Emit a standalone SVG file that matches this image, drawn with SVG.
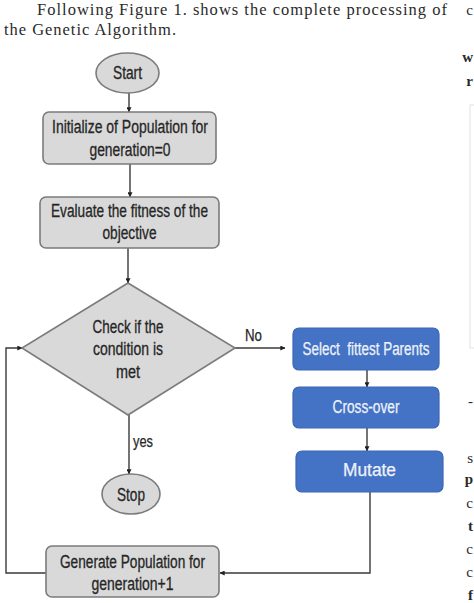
<svg xmlns="http://www.w3.org/2000/svg" width="474" height="603" viewBox="0 0 474 603">
<style>
.para{font-family:"Liberation Serif","Times New Roman",serif;font-size:16.5px;fill:#2a2a2a}
.frag{font-family:"Liberation Serif","Times New Roman",serif;font-size:15px;fill:#2a2a2a;text-anchor:end}
.gray{fill:#d9d9d9;stroke:#7b7b7b;stroke-width:1.6}
.blue{fill:#4472c4;stroke:#3b67b5;stroke-width:1.2}
.t{font-family:"Liberation Sans",Arial,sans-serif;font-size:18px;fill:#262626;stroke:#262626;stroke-width:0.3;text-anchor:middle}
.tw{font-family:"Liberation Sans",Arial,sans-serif;font-size:18px;fill:#eef2fa;stroke:#eef2fa;stroke-width:0.25;text-anchor:middle;white-space:pre}
.lbl{font-family:"Liberation Sans",Arial,sans-serif;font-size:17px;fill:#262626;stroke:#262626;stroke-width:0.25}
.con{fill:none;stroke:#3a3a3a;stroke-width:1.4}
</style>
<defs>
<marker id="arr" viewBox="0 0 8 8" refX="7.5" refY="4" markerWidth="5" markerHeight="5" orient="auto" markerUnits="userSpaceOnUse">
<path d="M0,0 L8,4 L0,8 z" fill="#222"/>
</marker>
</defs>
<rect width="474" height="603" fill="#ffffff"/>

<g id="paragraph">
<text class="para" x="37" y="15" textLength="410" lengthAdjust="spacing">Following Figure 1. shows the complete processing of</text>
<text class="para" x="4" y="35" textLength="172" lengthAdjust="spacing">the Genetic Algorithm.</text>
</g>

<g id="page-edge">
<rect x="470" y="105" width="20" height="243" fill="none" stroke="#e2e2e2" stroke-width="1"/>
<text class="frag" x="473" y="15">c</text>
<text class="frag" x="473" y="62" font-weight="bold">w</text>
<text class="frag" x="473" y="86" font-weight="bold">r</text>
<text class="frag" x="473" y="406">-</text>
<text class="frag" x="473" y="463">s</text>
<text class="frag" x="473" y="484" font-weight="bold">p</text>
<text class="frag" x="473" y="508">c</text>
<text class="frag" x="473" y="531" font-weight="bold">t</text>
<text class="frag" x="473" y="554">c</text>
<text class="frag" x="473" y="577">c</text>
<text class="frag" x="473" y="600" font-weight="bold">f</text>
</g>

<g id="connectors">
<path class="con" d="M129,93 V112" marker-end="url(#arr)"/>
<path class="con" d="M130,164 V197" marker-end="url(#arr)"/>
<path class="con" d="M128,248 V283" marker-end="url(#arr)"/>
<path class="con" d="M235,348 H285" marker-end="url(#arr)"/>
<path class="con" d="M367,370 V387" marker-end="url(#arr)"/>
<path class="con" d="M367,428 V451" marker-end="url(#arr)"/>
<path class="con" d="M129,415 V474" marker-end="url(#arr)"/>
<path class="con" d="M370,492 V573 H220" marker-end="url(#arr)"/>
<path class="con" d="M46,573 H6 V348 H22" marker-end="url(#arr)"/>
<text class="lbl" x="245" y="341" textLength="17" lengthAdjust="spacingAndGlyphs">No</text>
<text class="lbl" x="133" y="447" textLength="20" lengthAdjust="spacingAndGlyphs">yes</text>
</g>

<g id="start">
<ellipse class="gray" cx="127.5" cy="73" rx="31.5" ry="20"/>
<text class="t" x="127.5" y="79" textLength="29" lengthAdjust="spacingAndGlyphs">Start</text>
</g>

<g id="init">
<rect class="gray" x="43" y="112" width="173" height="52" rx="6"/>
<text class="t" x="130" y="133" textLength="156" lengthAdjust="spacingAndGlyphs">Initialize of Population for</text>
<text class="t" x="130" y="156" textLength="81" lengthAdjust="spacingAndGlyphs">generation=0</text>
</g>

<g id="evaluate">
<rect class="gray" x="40" y="197" width="179" height="51" rx="6"/>
<text class="t" x="129.5" y="217" textLength="157" lengthAdjust="spacingAndGlyphs">Evaluate the fitness of the</text>
<text class="t" x="129.5" y="239" textLength="54" lengthAdjust="spacingAndGlyphs">objective</text>
</g>

<g id="check">
<polygon class="gray" points="128,283 235,348 128,415 22,348"/>
<text class="t" x="128" y="333" textLength="71" lengthAdjust="spacingAndGlyphs">Check if the</text>
<text class="t" x="128" y="355" textLength="70" lengthAdjust="spacingAndGlyphs">condition is</text>
<text class="t" x="128" y="378" textLength="24" lengthAdjust="spacingAndGlyphs">met</text>
</g>

<g id="select">
<rect class="blue" x="293" y="328" width="146" height="42" rx="6"/>
<text class="tw" x="366" y="355" textLength="127" lengthAdjust="spacingAndGlyphs" xml:space="preserve">Select  fittest Parents</text>
</g>

<g id="crossover">
<rect class="blue" x="293" y="387" width="146" height="41" rx="6"/>
<text class="tw" x="366" y="413" textLength="67" lengthAdjust="spacingAndGlyphs">Cross-over</text>
</g>

<g id="mutate">
<rect class="blue" x="296" y="451" width="147" height="41" rx="6"/>
<text class="tw" x="369.5" y="476" textLength="53" lengthAdjust="spacingAndGlyphs">Mutate</text>
</g>

<g id="stop">
<ellipse class="gray" cx="131" cy="494" rx="29" ry="20"/>
<text class="t" x="131" y="501" textLength="28" lengthAdjust="spacingAndGlyphs">Stop</text>
</g>

<g id="generate">
<rect class="gray" x="46" y="546" width="173" height="51" rx="6"/>
<text class="t" x="132.5" y="568" textLength="145" lengthAdjust="spacingAndGlyphs">Generate Population for</text>
<text class="t" x="132.5" y="590" textLength="82" lengthAdjust="spacingAndGlyphs">generation+1</text>
</g>
</svg>
